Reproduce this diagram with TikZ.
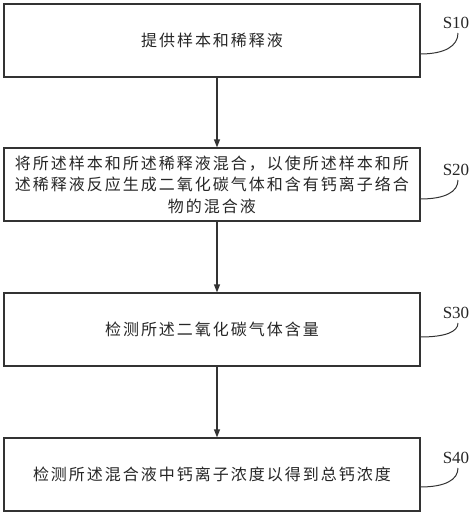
\documentclass[tikz,border=0pt]{standalone}
\usepackage{fontspec}
\setmainfont{Liberation Serif}
\newfontfamily\cjk[LetterSpace=12.5]{Noto Sans CJK SC}
\usetikzlibrary{arrows.meta}
\begin{document}
\begin{tikzpicture}[x=1pt,y=-1pt,
  stepbox/.style={draw=black!80,line width=1.2pt,minimum width=416pt,minimum height=73pt,inner sep=0pt,
    font=\cjk\fontsize{16}{21.5}\selectfont,align=center,text=black!85},
  conn/.style={draw=black!80,line width=1.2pt,-{Triangle[length=8pt,width=6pt]}},
  lbl/.style={font=\fontsize{17}{20}\selectfont,text=black!85,inner sep=0pt},
  lead/.style={draw=black!80,line width=1pt}]
\useasboundingbox (0,0) rectangle (474,515);
\node[stepbox] (s1) at (212,40.5) {提供样本和稀释液};
\node[stepbox] (s2) at (212,184.5) {将所述样本和所述稀释液混合，以使所述样本和所\\述稀释液反应生成二氧化碳气体和含有钙离子络合\\物的混合液};
\node[stepbox] (s3) at (212,329.5) {检测所述二氧化碳气体含量};
\node[stepbox] (s4) at (212,474.5) {检测所述混合液中钙离子浓度以得到总钙浓度};
\draw[conn] (s1.south -| 217,0) -- (s2.north -| 217,0);
\draw[conn] (s2.south -| 217,0) -- (s3.north -| 217,0);
\draw[conn] (s3.south -| 217,0) -- (s4.north -| 217,0);
\node[lbl] (l1) at (456,23) {S10};
\node[lbl] (l2) at (456,170) {S20};
\node[lbl] (l3) at (456,313) {S30};
\node[lbl] (l4) at (456,458) {S40};
\coordinate (c1) at (420,54);
\coordinate (c2) at (420,199);
\coordinate (c3) at (420,337);
\coordinate (c4) at (420,487);
\draw[lead] (c1) .. controls (445,54) and (458,46) .. (458,33);
\draw[lead] (c2) .. controls (445,199) and (458,192) .. (458,180);
\draw[lead] (c3) .. controls (445,337) and (458,332) .. (458,323);
\draw[lead] (c4) .. controls (445,487) and (458,480) .. (458,468);
\end{tikzpicture}
\end{document}
